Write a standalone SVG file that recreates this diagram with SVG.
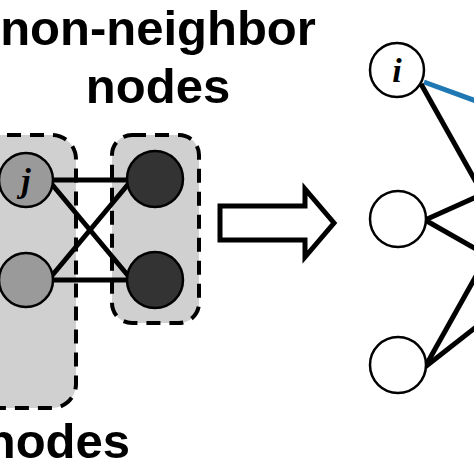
<svg xmlns="http://www.w3.org/2000/svg" width="474" height="474" viewBox="0 0 474 474">
<style>
.lbl{font-family:"Liberation Sans",Arial,sans-serif;font-weight:bold;font-size:49px;fill:#000}
.box{fill:#d0d0d0;stroke:#000;stroke-width:4;stroke-dasharray:14 9}
.edge{stroke:#000;stroke-width:5;fill:none}
.wn{fill:#fff;stroke:#000;stroke-width:2.5}
.ital{font-family:"Liberation Serif","Times New Roman",serif;font-weight:bold;font-style:italic;font-size:34px;fill:#000}
</style>
<rect width="474" height="474" fill="#fff"/>
<g id="title">
<text class="lbl" x="158" y="45" text-anchor="middle">non-neighbor</text>
<text class="lbl" x="158" y="103" text-anchor="middle">nodes</text>
</g>
<g id="left-group"><rect class="box" x="-40" y="135" width="116" height="273" rx="24"/></g>
<g id="right-group"><rect class="box" x="112" y="135" width="87" height="188" rx="20"/></g>
<g id="connectors">
<line class="edge" x1="53" y1="180" x2="128" y2="180"/>
<line class="edge" x1="53" y1="280" x2="128" y2="280"/>
<line class="edge" x1="50" y1="182" x2="130" y2="278"/>
<line class="edge" x1="50" y1="278" x2="130" y2="182"/>
<line x1="424" y1="82" x2="476" y2="101" stroke="#1f77b4" stroke-width="5"/>
<line class="edge" x1="421" y1="84" x2="476" y2="182"/>
<line class="edge" x1="425" y1="220" x2="476" y2="197"/>
<line class="edge" x1="425" y1="220" x2="476" y2="249"/>
<line class="edge" x1="425" y1="367" x2="476" y2="276"/>
<line class="edge" x1="425" y1="367" x2="476" y2="327"/>
</g>
<g id="node-j">
<circle cx="26" cy="180" r="27" fill="#9a9a9a" stroke="#000" stroke-width="2.5"/>
<text class="ital" x="26" y="192" text-anchor="middle">j</text>
</g>
<g id="node-l2"><circle cx="26" cy="280" r="27" fill="#9a9a9a" stroke="#000" stroke-width="2.5"/></g>
<g id="node-d1"><circle cx="155" cy="179" r="28" fill="#333" stroke="#000" stroke-width="2.5"/></g>
<g id="node-d2"><circle cx="155" cy="280" r="28" fill="#333" stroke="#000" stroke-width="2.5"/></g>
<g id="arrow"><polygon points="220,206 305,206 305,189 334,223 305,257 305,240 220,240" fill="#fff" stroke="#000" stroke-width="5" stroke-linejoin="miter"/></g>
<g id="node-i">
<circle class="wn" cx="397" cy="70" r="27"/>
<text class="ital" x="397" y="82" text-anchor="middle">i</text>
</g>
<g id="node-m"><circle class="wn" cx="398" cy="219" r="28"/></g>
<g id="node-b"><circle class="wn" cx="398" cy="365" r="28"/></g>
<g id="bottom-label"><text class="lbl" x="130" y="458" text-anchor="end">nodes</text></g>
</svg>
